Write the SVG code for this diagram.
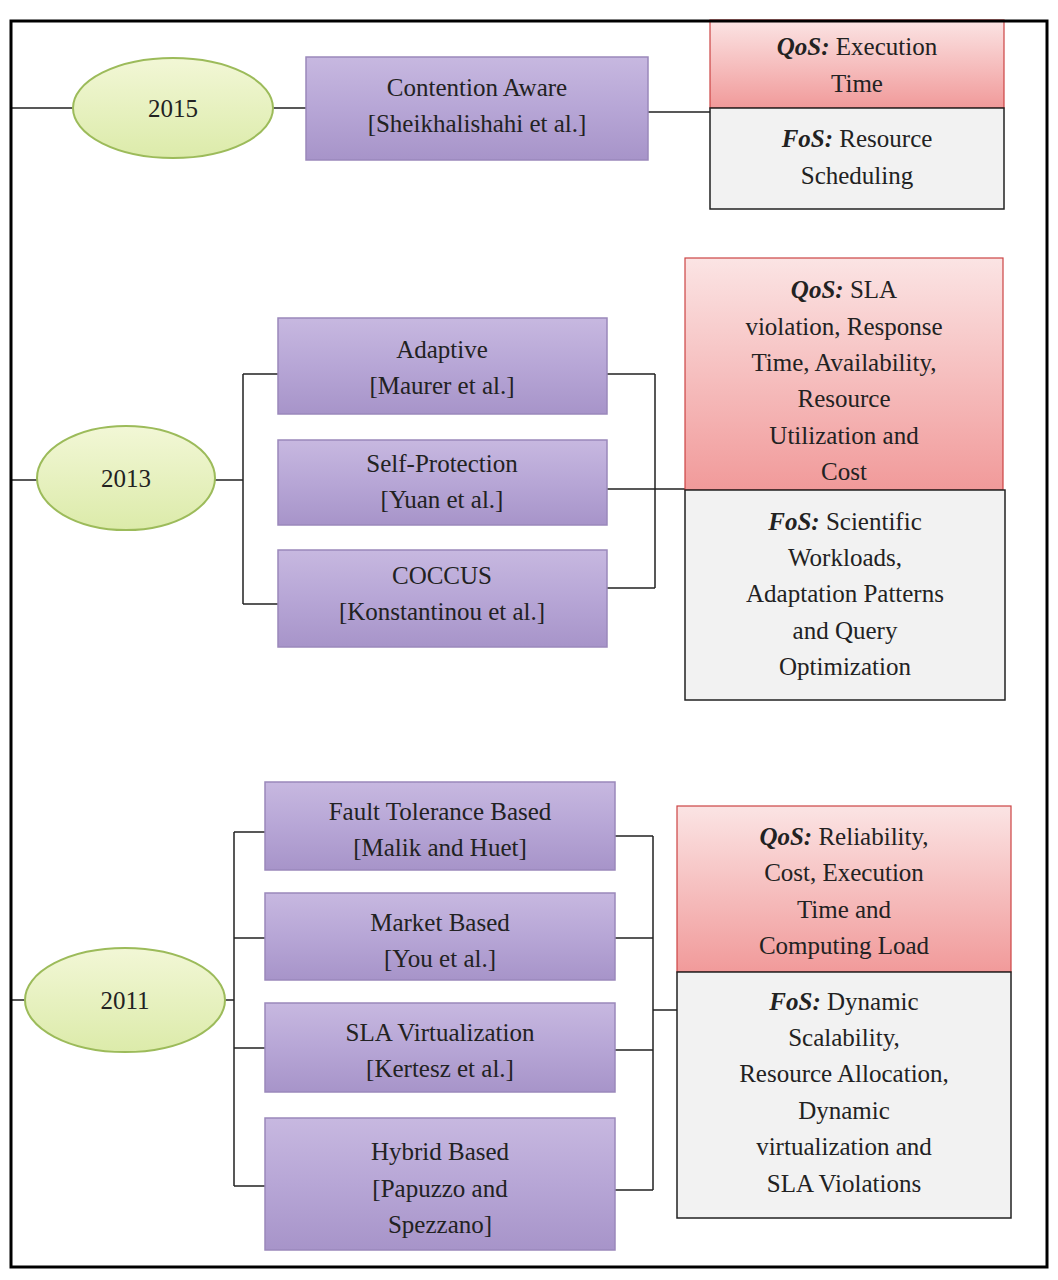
<svg xmlns="http://www.w3.org/2000/svg" width="1058" height="1280" viewBox="0 0 1058 1280">
<defs>
<linearGradient id="pu" x1="0" y1="0" x2="0" y2="1"><stop offset="0" stop-color="#c7b8e0"/><stop offset="0.5" stop-color="#b7a6d6"/><stop offset="1" stop-color="#a794c9"/></linearGradient>
<linearGradient id="gr" x1="0" y1="0" x2="0" y2="1"><stop offset="0" stop-color="#f2f7d6"/><stop offset="1" stop-color="#dcebaa"/></linearGradient>
<linearGradient id="pk" x1="0" y1="0" x2="0" y2="1"><stop offset="0" stop-color="#fbe4e4"/><stop offset="1" stop-color="#f19a9a"/></linearGradient>
</defs>
<style>
.t{font-family:'Liberation Serif','Times New Roman','DejaVu Serif',serif;font-size:25px;fill:#222;text-anchor:middle}
.b{font-weight:bold;font-style:italic}
.box{fill:url(#pu);stroke:#9a88bb;stroke-width:1.5}
.el{fill:url(#gr);stroke:#9cbb5a;stroke-width:2}
.q{fill:url(#pk);stroke:#c44;stroke-width:1.2}
.f{fill:#f2f2f2;stroke:#222;stroke-width:1.5}
.c{stroke:#222;stroke-width:1.5;fill:none}
</style>
<rect x="0" y="0" width="1058" height="1280" fill="#fff"/>
<g id="connectors">
<path class="c" d="M12 108H73M273 108H306M648 112H710"/>
<path class="c" d="M12 480H37M215 480H243M243 374V604M243 374H278M243 604H278M607 374H655M607 588H655M655 374V588M607 489H685"/>
<path class="c" d="M12 1000H25M225 1000H234M234 832V1186M234 832H265M234 938H265M234 1048H265M234 1186H265M615 836H653M615 938H653M615 1050H653M615 1190H653M653 836V1190M653 1010H680"/>
</g>
<g id="y2015"><ellipse class="el" cx="173" cy="108" rx="100" ry="50"/><text class="t" x="173" y="117">2015</text></g>
<g id="n2015"><rect class="box" x="306" y="57" width="342" height="103"/><text class="t" x="477" y="96">Contention Aware</text><text class="t" x="477" y="132">[Sheikhalishahi et al.]</text></g>
<g id="q2015"><rect class="q" x="710" y="20" width="294" height="88"/><text class="t" x="857" y="55"><tspan class="b">QoS:</tspan> Execution</text><text class="t" x="857" y="92">Time</text></g>
<g id="f2015"><rect class="f" x="710" y="108" width="294" height="101"/><text class="t" x="857" y="147"><tspan class="b">FoS:</tspan> Resource</text><text class="t" x="857" y="184">Scheduling</text></g>

<g id="y2013"><ellipse class="el" cx="126" cy="478" rx="89" ry="52"/><text class="t" x="126" y="487">2013</text></g>
<g id="adaptive"><rect class="box" x="278" y="318" width="329" height="96"/><text class="t" x="442" y="358">Adaptive</text><text class="t" x="442" y="394">[Maurer et al.]</text></g>
<g id="selfprot"><rect class="box" x="278" y="440" width="329" height="85"/><text class="t" x="442" y="472">Self-Protection</text><text class="t" x="442" y="508">[Yuan et al.]</text></g>
<g id="coccus"><rect class="box" x="278" y="550" width="329" height="97"/><text class="t" x="442" y="584">COCCUS</text><text class="t" x="442" y="620">[Konstantinou et al.]</text></g>
<g id="q2013"><rect class="q" x="685" y="258" width="318" height="232"/>
<text class="t" x="844" y="298"><tspan class="b">QoS:</tspan> SLA</text><text class="t" x="844" y="335">violation, Response</text><text class="t" x="844" y="371">Time, Availability,</text><text class="t" x="844" y="407">Resource</text><text class="t" x="844" y="444">Utilization and</text><text class="t" x="844" y="480">Cost</text></g>
<g id="f2013"><rect class="f" x="685" y="490" width="320" height="210"/>
<text class="t" x="845" y="530"><tspan class="b">FoS:</tspan> Scientific</text><text class="t" x="845" y="566">Workloads,</text><text class="t" x="845" y="602">Adaptation Patterns</text><text class="t" x="845" y="639">and Query</text><text class="t" x="845" y="675">Optimization</text></g>

<g id="y2011"><ellipse class="el" cx="125" cy="1000" rx="100" ry="52"/><text class="t" x="125" y="1009">2011</text></g>
<g id="fault"><rect class="box" x="265" y="782" width="350" height="88"/><text class="t" x="440" y="820">Fault Tolerance Based</text><text class="t" x="440" y="856">[Malik and Huet]</text></g>
<g id="market"><rect class="box" x="265" y="893" width="350" height="87"/><text class="t" x="440" y="931">Market Based</text><text class="t" x="440" y="967">[You et al.]</text></g>
<g id="sla"><rect class="box" x="265" y="1003" width="350" height="89"/><text class="t" x="440" y="1041">SLA Virtualization</text><text class="t" x="440" y="1077">[Kertesz et al.]</text></g>
<g id="hybrid"><rect class="box" x="265" y="1118" width="350" height="132"/><text class="t" x="440" y="1160">Hybrid Based</text><text class="t" x="440" y="1197">[Papuzzo and</text><text class="t" x="440" y="1233">Spezzano]</text></g>
<g id="q2011"><rect class="q" x="677" y="806" width="334" height="166"/>
<text class="t" x="844" y="845"><tspan class="b">QoS:</tspan> Reliability,</text><text class="t" x="844" y="881">Cost, Execution</text><text class="t" x="844" y="918">Time and</text><text class="t" x="844" y="954">Computing Load</text></g>
<g id="f2011"><rect class="f" x="677" y="972" width="334" height="246"/>
<text class="t" x="844" y="1010"><tspan class="b">FoS:</tspan> Dynamic</text><text class="t" x="844" y="1046">Scalability,</text><text class="t" x="844" y="1082">Resource Allocation,</text><text class="t" x="844" y="1119">Dynamic</text><text class="t" x="844" y="1155">virtualization and</text><text class="t" x="844" y="1192">SLA Violations</text></g>
<rect x="11" y="21" width="1036" height="1246" fill="none" stroke="#000" stroke-width="3"/>
</svg>
